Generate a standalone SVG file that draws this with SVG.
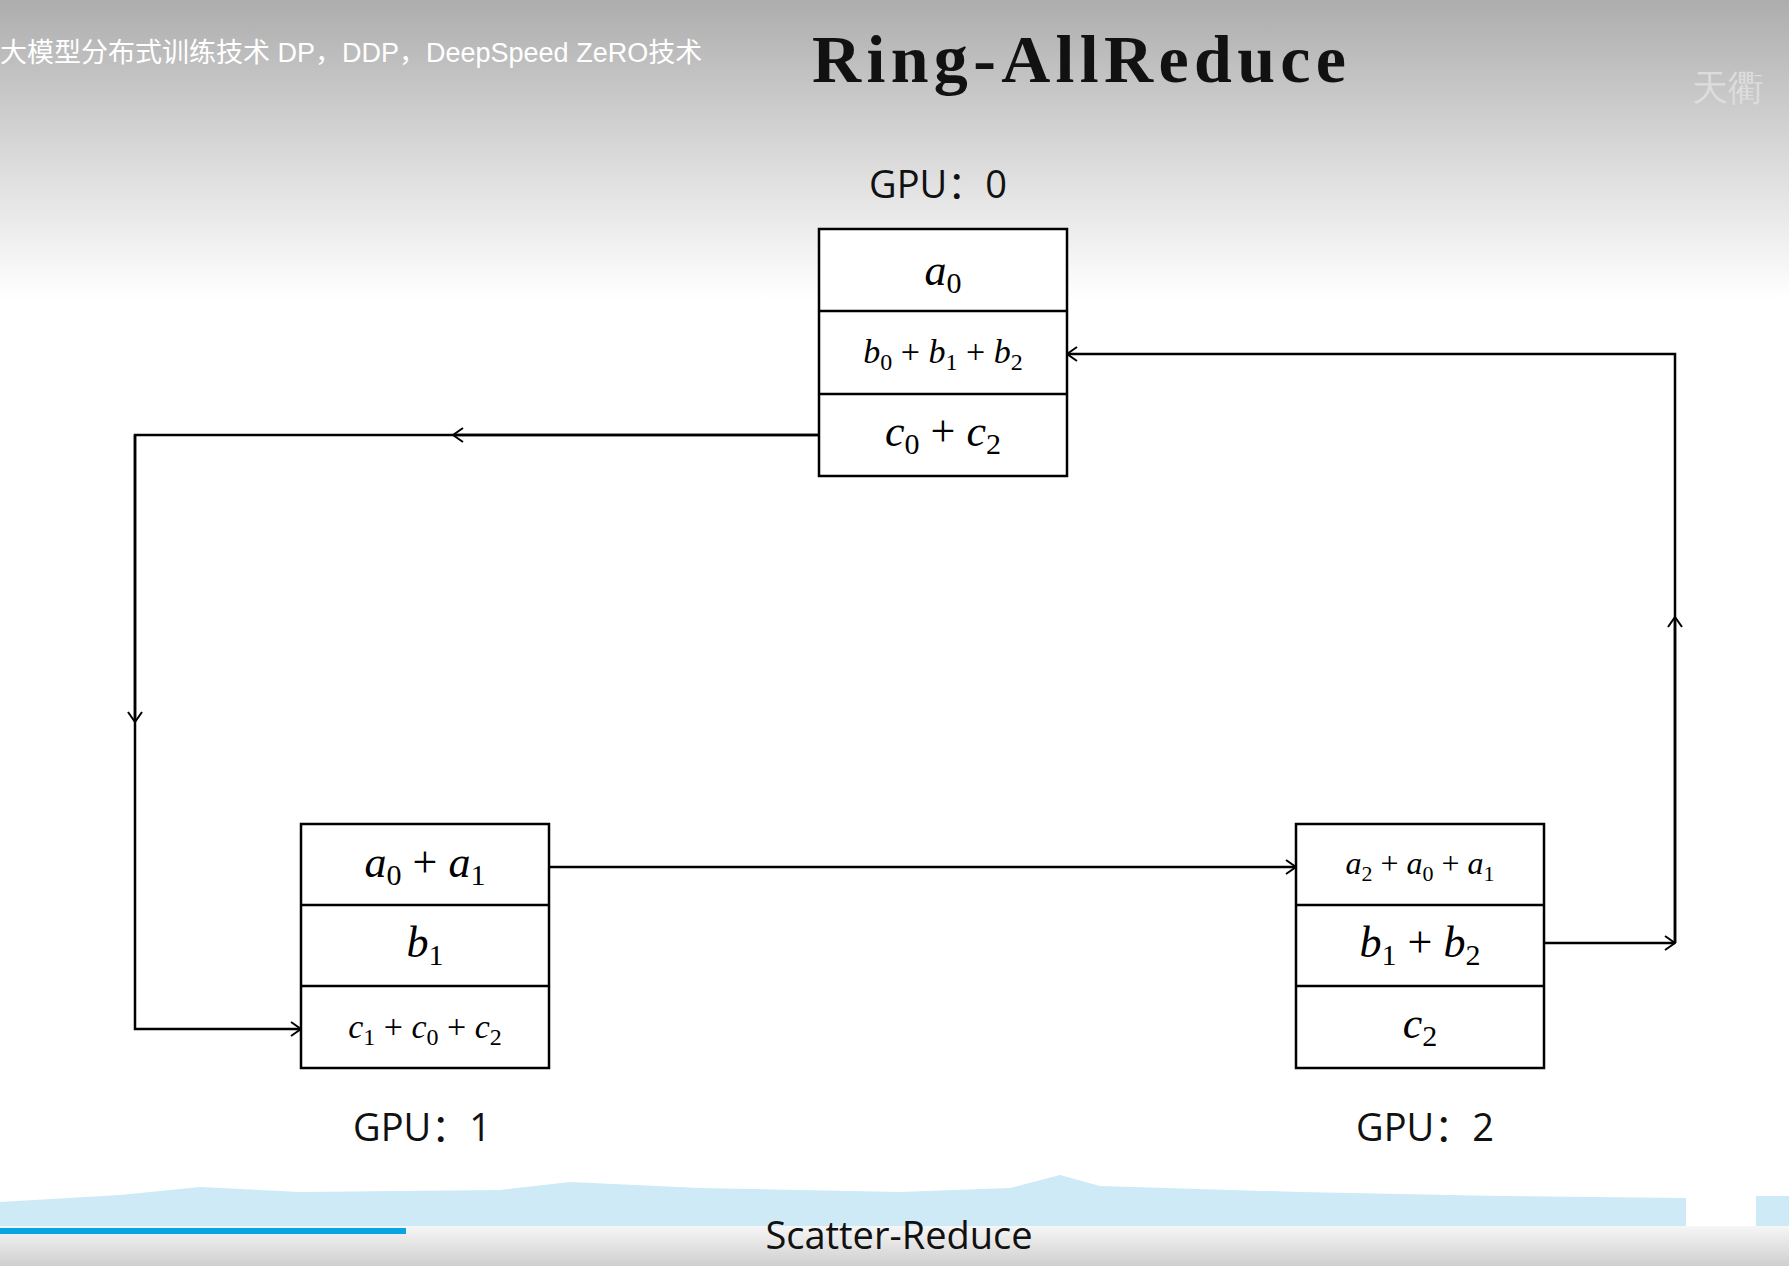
<svg xmlns="http://www.w3.org/2000/svg" width="1789" height="1266" viewBox="0 0 1789 1266">
<defs>
<linearGradient id="bg" x1="0" y1="0" x2="0" y2="1">
<stop offset="0" stop-color="#adadad"/><stop offset="0.55" stop-color="#dcdcdc"/><stop offset="1" stop-color="#ffffff"/>
</linearGradient>
<linearGradient id="bot" x1="0" y1="0" x2="0" y2="1">
<stop offset="0" stop-color="#f6f6f6"/><stop offset="1" stop-color="#cfcfcf"/>
</linearGradient>
<marker id="ah" viewBox="0 0 12 16" refX="11" refY="8" markerWidth="12" markerHeight="16" markerUnits="userSpaceOnUse" orient="auto">
<path d="M1,1 L11,8 L1,15" fill="none" stroke="#000" stroke-width="2"/>
</marker>
<marker id="mid" viewBox="0 0 12 16" refX="8" refY="8" markerWidth="12" markerHeight="16" markerUnits="userSpaceOnUse" orient="auto">
<path d="M1,1 L11,8 L1,15" fill="none" stroke="#000" stroke-width="2"/>
</marker>
</defs>
<style>
.box{fill:#fff;stroke:#000;stroke-width:2.5}
.ln{fill:none;stroke:#000;stroke-width:2.5}
.m{font-family:"Liberation Serif","DejaVu Serif",serif;font-style:italic;text-anchor:middle;fill:#000}
.up{font-style:normal}
.g{font-family:"Open Sans","Noto Sans","Noto Sans CJK SC",sans-serif;font-size:38px;text-anchor:middle;fill:#111}
</style>
<rect width="1789" height="300" fill="url(#bg)"/>
<rect y="300" width="1789" height="966" fill="#fff"/>
<path d="M0,1202 L120,1195 L200,1187 L300,1192 L500,1190 L570,1182 L700,1188 L900,1192 L1010,1188 L1060,1175 L1100,1186 L1300,1192 L1500,1196 L1686,1198 L1686,1226 L0,1226 Z" fill="#cdeaf6"/>
<rect x="1756" y="1196" width="33" height="30" fill="#cdeaf6"/>
<rect y="1226" width="1789" height="40" fill="url(#bot)"/>
<rect x="0" y="1228" width="406" height="6" fill="#0aa4e4"/>
<text x="0" y="62" font-family="Liberation Sans,Noto Sans CJK SC,sans-serif" font-size="27" fill="#fff">大模型分布式训练技术 DP，DDP，DeepSpeed ZeRO技术</text>
<text x="812" y="82" font-family="Liberation Serif,serif" font-weight="bold" font-size="68" textLength="534" fill="#111">Ring-AllReduce</text>
<text x="1692" y="100" font-family="Liberation Sans,sans-serif" font-size="36" fill="#ddd">天衢</text>

<g id="connectors">
<path class="ln" d="M819,435 L135,435 L135,1029 L301,1029" marker-end="url(#ah)"/>
<path class="ln" d="M819,435 L456,435" marker-end="url(#mid)"/>
<path class="ln" d="M135,435 L135,719" marker-end="url(#mid)"/>
<path class="ln" d="M549,867 L1296,867" marker-end="url(#ah)"/>
<path class="ln" d="M1544,943 L1675,943" marker-end="url(#ah)"/>
<path class="ln" d="M1675,943 L1675,354 L1067,354" marker-end="url(#ah)"/>
<path class="ln" d="M1675,943 L1675,620" marker-end="url(#mid)"/>
</g>

<g id="gpu0">
<text class="g" x="938" y="198">GPU：0</text>
<rect class="box" x="819" y="229" width="248" height="247"/>
<line class="ln" x1="819" y1="311" x2="1067" y2="311"/><line class="ln" x1="819" y1="394" x2="1067" y2="394"/>
<text class="m" x="943" y="285" font-size="44">a<tspan font-size="30" class="up" dy="8">0</tspan></text>
<text class="m" x="943" y="363" font-size="34">b<tspan font-size="24" class="up" dy="7">0</tspan><tspan class="up" dy="-7"> + </tspan>b<tspan font-size="24" class="up" dy="7">1</tspan><tspan class="up" dy="-7"> + </tspan>b<tspan font-size="24" class="up" dy="7">2</tspan></text>
<text class="m" x="943" y="446" font-size="44">c<tspan font-size="30" class="up" dy="8">0</tspan><tspan class="up" dy="-8"> + </tspan>c<tspan font-size="30" class="up" dy="8">2</tspan></text>
</g>

<g id="gpu1">
<rect class="box" x="301" y="824" width="248" height="244"/>
<line class="ln" x1="301" y1="905" x2="549" y2="905"/><line class="ln" x1="301" y1="986" x2="549" y2="986"/>
<text class="m" x="425" y="877" font-size="44">a<tspan font-size="30" class="up" dy="8">0</tspan><tspan class="up" dy="-8"> + </tspan>a<tspan font-size="30" class="up" dy="8">1</tspan></text>
<text class="m" x="425" y="957" font-size="44">b<tspan font-size="30" class="up" dy="8">1</tspan></text>
<text class="m" x="425" y="1038" font-size="34">c<tspan font-size="24" class="up" dy="7">1</tspan><tspan class="up" dy="-7"> + </tspan>c<tspan font-size="24" class="up" dy="7">0</tspan><tspan class="up" dy="-7"> + </tspan>c<tspan font-size="24" class="up" dy="7">2</tspan></text>
<text class="g" x="422" y="1141">GPU：1</text>
</g>

<g id="gpu2">
<rect class="box" x="1296" y="824" width="248" height="244"/>
<line class="ln" x1="1296" y1="905" x2="1544" y2="905"/><line class="ln" x1="1296" y1="986" x2="1544" y2="986"/>
<text class="m" x="1420" y="874" font-size="32">a<tspan font-size="22" class="up" dy="7">2</tspan><tspan class="up" dy="-7"> + </tspan>a<tspan font-size="22" class="up" dy="7">0</tspan><tspan class="up" dy="-7"> + </tspan>a<tspan font-size="22" class="up" dy="7">1</tspan></text>
<text class="m" x="1420" y="957" font-size="44">b<tspan font-size="30" class="up" dy="8">1</tspan><tspan class="up" dy="-8"> + </tspan>b<tspan font-size="30" class="up" dy="8">2</tspan></text>
<text class="m" x="1420" y="1038" font-size="44">c<tspan font-size="30" class="up" dy="8">2</tspan></text>
<text class="g" x="1425" y="1141">GPU：2</text>
</g>

<text x="899" y="1249" font-family="Open Sans,Noto Sans,sans-serif" font-size="38" text-anchor="middle" fill="#111">Scatter-Reduce</text>
</svg>
